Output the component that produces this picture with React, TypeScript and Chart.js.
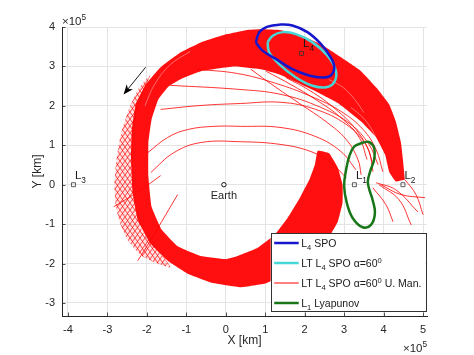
import React, { useEffect, useRef } from 'react';
import { Chart, registerables } from 'chart.js';

Chart.register(...registerables);

const FONT = '"Liberation Sans", Arial, Helvetica, sans-serif';
const TEXT = '#262626';
const RED = 'rgb(255,0,0)';
const BLUE = 'rgb(22,22,205)';
const CYAN = 'rgb(70,215,215)';
const GREEN = 'rgb(24,118,24)';

// axis ticks (units of 1e5 km)
const xTicks = [-4, -3, -2, -1, 0, 1, 2, 3, 4, 5];
const yTicks = [-3, -2, -1, 0, 1, 2, 3, 4];
const xRange = [-4.15, 5.1];
const yRange = [-3.33, 4.0];

// L4 SPO orbit
const l4SpoOrbit: [number, number][] = [
  [0.76, 3.61], [0.85, 3.87], [1.06, 4.01], [1.35, 4.06], [1.69, 4.04], [2.07, 3.87], [2.41, 3.57],
  [2.66, 3.23], [2.75, 2.98], [2.66, 2.77], [2.45, 2.72], [2.11, 2.77], [1.69, 2.93], [1.27, 3.19],
  [0.93, 3.40], [0.76, 3.61],
];

// low-thrust L4 SPO, alpha = 60 deg
const ltL4SpoOrbit: [number, number][] = [
  [1.06, 3.61], [1.19, 3.78], [1.44, 3.87], [1.78, 3.82], [2.20, 3.61], [2.58, 3.27], [2.79, 2.89],
  [2.75, 2.60], [2.54, 2.47], [2.20, 2.51], [1.78, 2.72], [1.35, 3.06], [1.10, 3.36], [1.06, 3.61],
];

// L1 Lyapunov orbit
const l1Lyapunov: [number, number][] = [
  [3.51, 1.08], [3.26, 0.97], [3.13, 0.72], [3.05, 0.38], [3.00, -0.04], [3.07, -0.47], [3.22, -0.85],
  [3.47, -1.08], [3.68, -1.02], [3.78, -0.72], [3.72, -0.38], [3.64, -0.13], [3.60, 0.08], [3.66, 0.34],
  [3.76, 0.64], [3.76, 0.93], [3.64, 1.08], [3.51, 1.08],
];

// dense region of the unstable manifold (outline)
const manifoldBand: [number, number][] = [
  [4.54, 0.13], [4.49, 0.64], [4.44, 1.07], [4.31, 1.60], [4.14, 2.04], [3.81, 2.47], [3.43, 2.88],
  [2.92, 3.23], [2.41, 3.56], [1.90, 3.79], [1.40, 3.92], [0.89, 3.94], [0.51, 3.92], [0.03, 3.82],
  [-0.63, 3.61], [-1.14, 3.36], [-1.65, 2.98], [-2.03, 2.54], [-2.28, 2.04], [-2.38, 1.40], [-2.40, 0.64],
  [-2.36, -0.20], [-2.23, -0.89], [-1.92, -1.48], [-1.47, -1.93], [-0.96, -2.26], [-0.38, -2.48],
  [0.38, -2.60], [1.02, -2.50], [1.65, -2.21], [2.16, -1.83], [2.56, -1.42], [2.84, -0.94], [2.96, -0.46],
  [2.96, 0.00], [2.84, 0.43], [2.62, 0.80], [2.33, 0.86],
  [2.26, 0.51], [2.12, 0.13], [1.88, -0.33], [1.57, -0.84], [1.24, -1.27], [0.81, -1.60], [0.30, -1.81],
  [0.00, -1.89], [-0.63, -1.81], [-1.22, -1.56], [-1.63, -1.13], [-1.88, -0.56], [-1.96, 0.20],
  [-1.96, 1.07], [-1.88, 1.65], [-1.71, 2.16], [-1.45, 2.49], [-1.12, 2.69], [-0.63, 2.88], [0.20, 3.00],
  [0.89, 2.93], [1.35, 2.80], [2.21, 2.40], [2.84, 2.07], [3.43, 1.60], [3.81, 1.20], [4.04, 0.76],
  [4.14, 0.33], [4.31, 0.08], [4.54, 0.13],
];

// sparse outer mesh of the manifold (outline)
const manifoldMesh: [number, number][] = [
  [-1.90, 2.80], [-2.20, 2.45], [-2.46, 1.90], [-2.66, 1.27], [-2.77, 0.64], [-2.82, 0.00], [-2.79, -0.51],
  [-2.69, -0.94], [-2.49, -1.40], [-2.16, -1.78], [-1.78, -1.98], [-1.40, -2.10], [-1.60, -1.80],
  [-2.10, -1.20], [-2.30, -0.40], [-2.36, 0.64], [-2.30, 1.60], [-2.10, 2.30], [-1.90, 2.80],
];

// individual manifold trajectories
const manifoldT1: [number, number][] = [[-0.76, 2.93], [0.30, 2.82], [1.27, 2.57], [2.16, 2.24], [2.92, 1.86], [3.48, 1.40], [3.81, 0.89], [3.98, 0.33]];
const manifoldT2: [number, number][] = [[-1.40, 2.52], [0.30, 2.42], [1.40, 2.29], [2.41, 1.96], [3.17, 1.53], [3.63, 1.02], [3.86, 0.51]];
const manifoldR1: [number, number][] = [[1.02, 2.88], [1.65, 2.54], [2.28, 2.16], [2.92, 1.70], [3.38, 1.20], [3.58, 0.64]];
const manifoldR2: [number, number][] = [[1.52, 2.72], [2.16, 2.37], [2.79, 1.91], [3.30, 1.40], [3.63, 0.84], [3.73, 0.33]];
const manifoldR3: [number, number][] = [[0.63, 2.93], [1.27, 2.47], [1.90, 2.04], [2.54, 1.60], [3.05, 1.15], [3.35, 0.64], [3.43, 0.25]];
const manifoldA1: [number, number][] = [[-1.65, 1.91], [-0.63, 2.01], [0.38, 2.06], [1.40, 2.09], [2.28, 1.91], [3.05, 1.53], [3.55, 1.02], [3.73, 0.51]];
const manifoldA2: [number, number][] = [[-1.98, 0.81], [-1.47, 1.20], [-0.96, 1.40], [-0.30, 1.48], [0.38, 1.48], [1.40, 1.45], [2.28, 1.22], [2.92, 0.84], [3.30, 0.38]];
const manifoldA3: [number, number][] = [[-1.90, 0.31], [-1.32, 0.81], [-0.63, 1.07], [0.38, 1.09], [1.40, 1.02], [2.16, 0.84], [2.66, 0.56], [3.05, 0.18]];
const manifoldS1: [number, number][] = [[-2.84, -0.56], [-2.46, -0.33], [-2.08, -0.08], [-1.65, 0.23]];
const manifoldS2: [number, number][] = [[-2.23, -1.93], [-1.90, -1.40], [-1.52, -0.76], [-1.22, -0.25]];
const manifoldF1: [number, number][] = [[3.81, 0.05], [4.31, -0.13], [4.87, -0.69]];
const manifoldF2: [number, number][] = [[3.88, 0.00], [4.39, -0.38], [4.70, -1.02]];
const manifoldF3: [number, number][] = [[3.93, 0.00], [4.44, -0.25], [5.05, -0.33]];
const manifoldF4: [number, number][] = [[4.54, 0.13], [4.82, -0.25], [5.00, -0.76]];
const manifoldF5: [number, number][] = [[3.73, -0.08], [4.06, -0.51], [4.24, -0.94]];
const manifoldLines = [manifoldT1, manifoldT2, manifoldR1, manifoldR2, manifoldR3, manifoldA1, manifoldA2,
  manifoldA3, manifoldS1, manifoldS2, manifoldF1, manifoldF2, manifoldF3, manifoldF4, manifoldF5];

// gaps between trajectories inside the dense band
const bandGap1: [number, number][] = [[2.61, 2.67], [2.97, 2.47], [3.27, 2.16], [3.50, 1.83]];
const bandGap2: [number, number][] = [[3.17, 1.96], [3.48, 1.70], [3.73, 1.35], [3.88, 0.97]];
const bandGap3: [number, number][] = [[-0.90, 3.38], [-1.40, 3.05], [-1.80, 2.55], [-2.05, 2.00]];
const bandGaps = [bandGap1, bandGap2, bandGap3];

// libration points and Earth
const libPointNames = ['L_1', 'L_2', 'L_3', 'L_4'];
const libPointX = [3.26, 4.49, -3.86, 1.92];
const libPointY = [0, 0, 0, 3.33];
const earthX = [-0.047];
const earthY = [0];
const earthName = 'Earth';

// direction-of-motion arrow
const arrowFrom = [-2.03, 2.98];
const arrowTo = [-2.59, 2.29];

const legendLabels = ['L_4 SPO', 'LT L_4 SPO α=60^0', 'LT L_4 SPO α=60^0 U. Man.', 'L_1 Lyapunov'];
const legendColors = [BLUE, CYAN, RED, GREEN];
const legendWidths = [2.5, 2.5, 1, 2.5];

const toPts = (arr: [number, number][]) => arr.map(([x, y]) => ({ x, y }));

function drawRich(ctx: CanvasRenderingContext2D, text: string, x: number, y: number, size: number) {
  ctx.textAlign = 'left';
  ctx.textBaseline = 'alphabetic';
  let cx = x;
  let i = 0;
  while (i < text.length) {
    const ch = text[i];
    if ((ch === '_' || ch === '^') && i + 1 < text.length) {
      const s = text[i + 1];
      ctx.font = `${size * 0.72}px ${FONT}`;
      const dy = ch === '_' ? size * 0.35 : -size * 0.36;
      ctx.fillText(s, cx, y + dy);
      cx += ctx.measureText(s).width;
      i += 2;
    } else {
      let j = i;
      while (j < text.length && text[j] !== '_' && text[j] !== '^') j++;
      const run = text.slice(i, j);
      ctx.font = `${size}px ${FONT}`;
      ctx.fillText(run, cx, y);
      cx += ctx.measureText(run).width;
      i = j;
    }
  }
}

const overlayPlugin = {
  id: 'overlay',
  afterDatasetsDraw(chart: any) {
    const { ctx, chartArea: a, scales } = chart;
    const xs = scales.x;
    const ys = scales.y;
    ctx.save();
    // inward tick marks
    ctx.strokeStyle = TEXT;
    ctx.lineWidth = 0.8;
    ctx.beginPath();
    xTicks.forEach((v) => {
      const p = Math.round(xs.getPixelForValue(v)) + 0.5;
      ctx.moveTo(p, a.bottom);
      ctx.lineTo(p, a.bottom - 3.5);
    });
    yTicks.forEach((v) => {
      const p = Math.round(ys.getPixelForValue(v)) + 0.5;
      ctx.moveTo(a.left, p);
      ctx.lineTo(a.left + 3.5, p);
    });
    ctx.stroke();

    // arrow
    const fx = xs.getPixelForValue(arrowFrom[0]);
    const fy = ys.getPixelForValue(arrowFrom[1]);
    const tx = xs.getPixelForValue(arrowTo[0]);
    const ty = ys.getPixelForValue(arrowTo[1]);
    const ang = Math.atan2(ty - fy, tx - fx);
    const c = Math.cos(ang);
    const s = Math.sin(ang);
    const L = 10;
    const W = 4;
    const N = 7;
    ctx.strokeStyle = '#000';
    ctx.fillStyle = '#000';
    ctx.lineWidth = 0.9;
    ctx.beginPath();
    ctx.moveTo(fx, fy);
    ctx.lineTo(tx - c * N, ty - s * N);
    ctx.stroke();
    ctx.beginPath();
    ctx.moveTo(tx, ty);
    ctx.lineTo(tx - L * c + W * s, ty - L * s - W * c);
    ctx.lineTo(tx - N * c, ty - N * s);
    ctx.lineTo(tx - L * c - W * s, ty - L * s + W * c);
    ctx.closePath();
    ctx.fill();

    // libration point labels
    ctx.fillStyle = '#1a1a1a';
    libPointNames.forEach((n, i) => {
      const px = xs.getPixelForValue(libPointX[i]);
      const py = ys.getPixelForValue(libPointY[i]);
      drawRich(ctx, n, px + 1.5, py - 6, 11.5);
    });

    // Earth label
    const ex = xs.getPixelForValue(earthX[0]);
    const ey = ys.getPixelForValue(earthY[0]);
    ctx.font = `11px ${FONT}`;
    ctx.textAlign = 'center';
    ctx.textBaseline = 'alphabetic';
    ctx.fillStyle = TEXT;
    ctx.fillText(earthName, ex, ey + 14);

    // axis exponent labels
    ctx.fillStyle = TEXT;
    drawRich(ctx, '×10^5', a.left, a.top - 2.5, 11.5);
    drawRich(ctx, '×10^5', a.right - 24, chart.height - 3.5, 11.5);
    ctx.restore();
  },
  afterDraw(chart: any) {
    const { ctx, chartArea: a } = chart;
    ctx.save();
    const bw = 154.6;
    const bh = 78.3;
    const bx = a.right - 1.7 - bw;
    const by = a.bottom - 4.7 - bh;
    ctx.fillStyle = '#fff';
    ctx.fillRect(bx, by, bw, bh);
    ctx.strokeStyle = '#333';
    ctx.lineWidth = 1;
    ctx.strokeRect(Math.round(bx) + 0.5, Math.round(by) + 0.5, Math.round(bw), Math.round(bh));
    legendLabels.forEach((lab, i) => {
      const ly = by + 10 + i * 20;
      ctx.strokeStyle = legendColors[i];
      ctx.lineWidth = legendWidths[i];
      ctx.beginPath();
      ctx.moveTo(bx + 3.5, ly);
      ctx.lineTo(bx + 28, ly);
      ctx.stroke();
      ctx.fillStyle = '#1a1a1a';
      drawRich(ctx, lab, bx + 30.5, ly + 3.7, 10.5);
    });
    ctx.restore();
  },
};

export default function App() {
  const ref = useRef<HTMLCanvasElement>(null);
  useEffect(() => {
    const canvas = ref.current;
    if (!canvas) return;
    const pc = document.createElement('canvas');
    pc.width = 5;
    pc.height = 7;
    const pctx = pc.getContext('2d')!;
    pctx.fillStyle = 'rgba(255,0,0,0.12)';
    pctx.fillRect(0, 0, 5, 7);
    pctx.strokeStyle = 'rgba(255,0,0,0.9)';
    pctx.lineWidth = 0.8;
    pctx.beginPath();
    pctx.moveTo(0, 7);
    pctx.lineTo(5, 0);
    pctx.moveTo(0, 0);
    pctx.lineTo(5, 7);
    pctx.stroke();
    const meshPattern = canvas.getContext('2d')!.createPattern(pc, 'repeat');

    const lineDs = manifoldLines.map((arr, i) => ({
      label: i === 0 ? legendLabels[2] : `${legendLabels[2]} #${i + 1}`,
      data: toPts(arr),
      showLine: true,
      borderColor: RED,
      borderWidth: 0.8,
      pointRadius: 0,
      tension: 0.4,
      fill: false,
      order: 2,
    }));
    const gapDs = bandGaps.map((arr, i) => ({
      label: `band gap ${i + 1}`,
      data: toPts(arr),
      showLine: true,
      borderColor: 'rgba(255,255,255,0.55)',
      borderWidth: 0.7,
      pointRadius: 0,
      tension: 0.4,
      fill: false,
      order: 3,
    }));

    const chart = new Chart(canvas, {
      type: 'scatter',
      data: {
        datasets: [
          { label: legendLabels[0], data: toPts(l4SpoOrbit), showLine: true, borderColor: BLUE, borderWidth: 2.5, pointRadius: 0, tension: 0.4, fill: false, clip: false, order: 0 },
          { label: legendLabels[1], data: toPts(ltL4SpoOrbit), showLine: true, borderColor: CYAN, borderWidth: 2.5, pointRadius: 0, tension: 0.4, fill: false, clip: false, order: 1 },
          { label: legendLabels[3], data: toPts(l1Lyapunov), showLine: true, borderColor: GREEN, borderWidth: 2.5, pointRadius: 0, tension: 0.4, fill: false, order: 1 },
          { label: 'Libration points', data: libPointX.map((x, i) => ({ x, y: libPointY[i] })), showLine: false, pointStyle: 'rect', pointRadius: 2.8, borderColor: '#333', borderWidth: 0.8, backgroundColor: 'rgba(0,0,0,0)', order: 0 },
          { label: earthName, data: earthX.map((x, i) => ({ x, y: earthY[i] })), showLine: false, pointStyle: 'circle', pointRadius: 2.2, borderColor: '#111', borderWidth: 1, backgroundColor: '#fff', order: 0 },
          ...lineDs,
          ...gapDs,
          { label: 'Manifold (dense)', data: toPts(manifoldBand), showLine: true, borderColor: 'rgba(0,0,0,0)', borderWidth: 0, backgroundColor: 'rgba(255,0,0,0.94)', fill: 'shape', pointRadius: 0, tension: 0.1, order: 4 },
          { label: 'Manifold (mesh)', data: toPts(manifoldMesh), showLine: true, borderColor: 'rgba(0,0,0,0)', borderWidth: 0, backgroundColor: meshPattern || 'rgba(255,0,0,0.35)', fill: 'shape', pointRadius: 0, tension: 0.2, order: 5 },
        ],
      } as any,
      options: {
        responsive: false,
        animation: false,
        devicePixelRatio: 1,
        events: [],
        layout: { padding: { top: 27, right: 47, left: 0, bottom: 0 } },
        elements: { line: { capBezierPoints: false } },
        plugins: { legend: { display: false }, tooltip: { enabled: false } },
        scales: {
          x: {
            type: 'linear',
            min: xRange[0],
            max: xRange[1],
            afterBuildTicks: (s: any) => { s.ticks = xTicks.map((v) => ({ value: v })); },
            afterFit: (s: any) => { s.height = 39; },
            grid: { color: '#e4e4e4', lineWidth: 1, drawTicks: false },
            border: { display: true, color: TEXT, width: 1 },
            ticks: { padding: 7, color: TEXT, font: { family: FONT, size: 11 }, maxRotation: 0, autoSkip: false, callback: (v: any) => String(v) },
            title: { display: true, text: 'X [km]', color: TEXT, font: { family: FONT, size: 12 }, padding: { top: 0, bottom: 7 } },
          },
          y: {
            type: 'linear',
            min: yRange[0],
            max: yRange[1],
            afterBuildTicks: (s: any) => { s.ticks = yTicks.map((v) => ({ value: v })); },
            afterFit: (s: any) => { s.width = 62; },
            grid: { color: '#e4e4e4', lineWidth: 1, drawTicks: false },
            border: { display: true, color: TEXT, width: 1 },
            ticks: { padding: 7, color: TEXT, font: { family: FONT, size: 11 }, autoSkip: false, callback: (v: any) => String(v) },
            title: { display: true, text: 'Y [km]', color: TEXT, font: { family: FONT, size: 12 }, padding: { top: 30, bottom: 0 } },
          },
        },
      } as any,
      plugins: [overlayPlugin],
    });
    return () => chart.destroy();
  }, []);

  return (
    <div style={{ position: 'fixed', left: 0, top: 0, width: 474, height: 355, background: '#fff' }}>
      <canvas ref={ref} width={474} height={355} style={{ display: 'block', width: 474, height: 355 }} />
    </div>
  );
}
